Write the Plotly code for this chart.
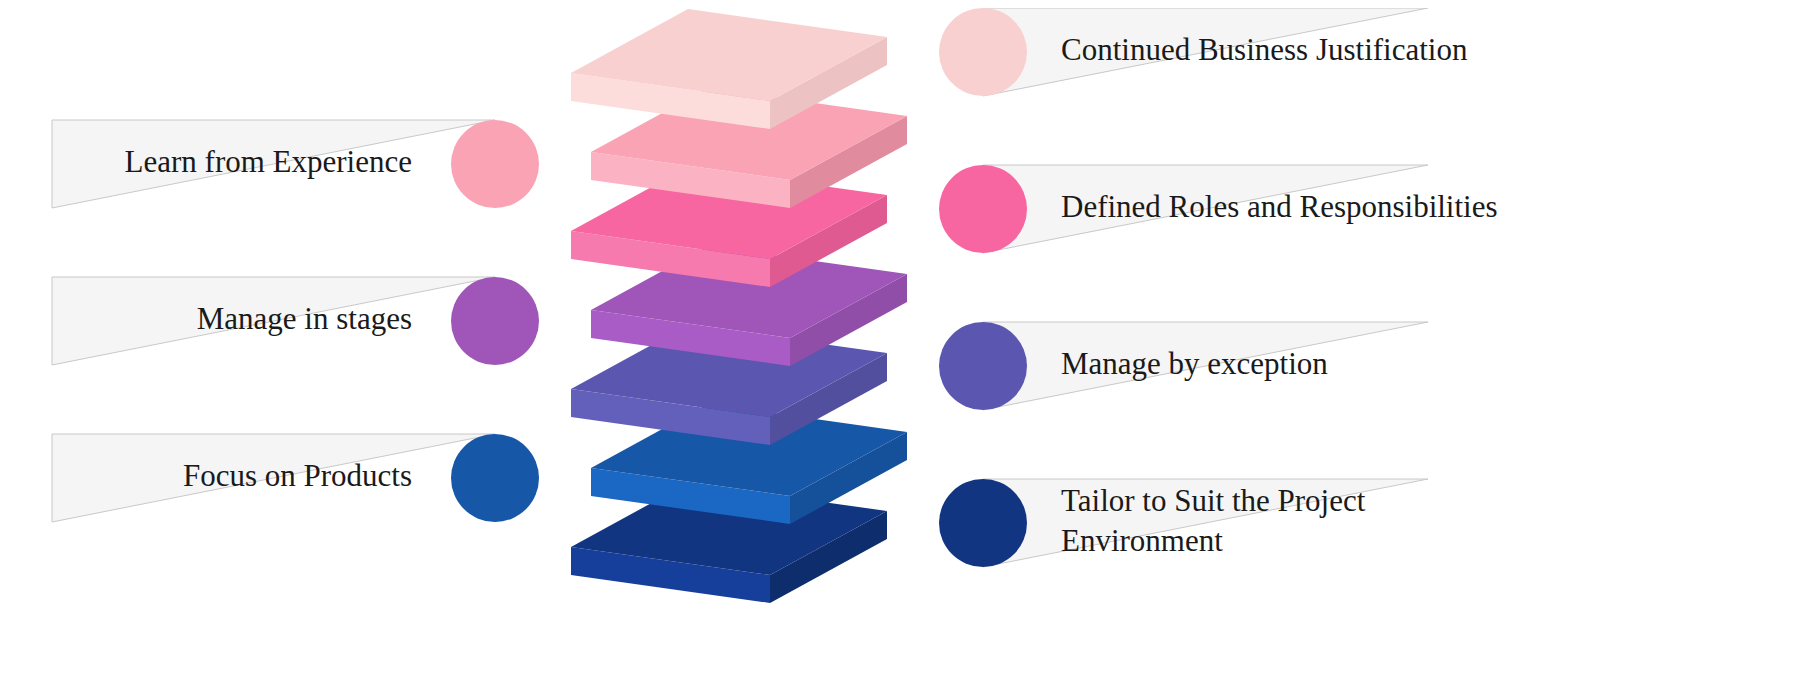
import plotly.graph_objects as go

# layers, top to bottom
layer_top = ["#F9D0D0", "#F9A3B5", "#F766A0", "#A056B9", "#5B57B0", "#1757A8", "#113580"]
layer_front = ["#FDDCDC", "#FBB3C4", "#F77AAE", "#A95CC6", "#6360BC", "#1A67C4", "#153F9A"]
layer_side = ["#EDC2C2", "#E08C9E", "#DE5A90", "#914EA8", "#52509E", "#15509A", "#0E2D6C"]

left_labels = ["Learn from Experience", "Manage in stages", "Focus on Products"]
left_colors = ["#F9A3B5", "#A056B9", "#1757A8"]
right_labels = ["Continued Business Justification", "Defined Roles and Responsibilities",
                "Manage by exception", "Tailor to Suit the Project<br>Environment"]
right_colors = ["#F9D0D0", "#F766A0", "#5B57B0", "#113580"]

W, H = 1816, 689
shapes = []

def poly(pts, color):
    d = "M " + " L ".join(f"{x},{y}" for x, y in pts) + " Z"
    return dict(type="path", path=d, fillcolor=color, line=dict(width=0), layer="below")

def pill(x0, x1, yc, r=44):
    d = (f"M {x0+r},{yc-r} L {x1-r},{yc-r} A {r} {r} 0 0 1 {x1-r},{yc+r} "
         f"L {x0+r},{yc+r} A {r} {r} 0 0 1 {x0+r},{yc-r} Z")
    return dict(type="path", path=d, fillcolor="#F5F5F5", line=dict(color="#C8C8C8", width=1), layer="below")

# pills first
left_y = [156 + 157 * i for i in range(len(left_labels))]
right_y = [44 + 157 * i for i in range(len(right_labels))]
for y in left_y:
    shapes.append(pill(0, 531, y))
for y in right_y:
    shapes.append(pill(931, 1464, y))

# slabs drawn bottom-up so upper ones overlap
step, th = 79, 28
for i in reversed(range(len(layer_top))):
    dx = 0 if i % 2 == 0 else 20
    dy = step * i
    L = (563 + dx, 65 + dy)
    B = (680 + dx, 1 + dy)
    R = (879 + dx, 29 + dy)
    F = (762 + dx, 93 + dy)
    shapes.append(poly([L, F, (F[0], F[1] + th), (L[0], L[1] + th)], layer_front[i]))
    shapes.append(poly([F, R, (R[0], R[1] + th), (F[0], F[1] + th)], layer_side[i]))
    shapes.append(poly([L, B, R, F], layer_top[i]))

fig = go.Figure()
fig.add_trace(go.Scatter(x=[487] * len(left_y), y=left_y, mode="markers",
                         marker=dict(size=88, color=left_colors, line=dict(width=0))))
fig.add_trace(go.Scatter(x=[975] * len(right_y), y=right_y, mode="markers",
                         marker=dict(size=88, color=right_colors, line=dict(width=0))))
fig.add_trace(go.Scatter(x=[404] * len(left_y), y=left_y, mode="text", text=left_labels,
                         textposition="middle left",
                         textfont=dict(family="Liberation Sans Narrow", size=31, color="#1a1a1a")))
fig.add_trace(go.Scatter(x=[1053] * len(right_y), y=right_y, mode="text", text=right_labels,
                         textposition="middle right",
                         textfont=dict(family="Liberation Sans Narrow", size=31, color="#1a1a1a")))

fig.update_layout(width=W, height=H, margin=dict(l=0, r=0, t=0, b=0),
                  plot_bgcolor="white", paper_bgcolor="white", showlegend=False,
                  shapes=shapes,
                  xaxis=dict(range=[0, W], visible=False, fixedrange=True),
                  yaxis=dict(range=[H, 0], visible=False, fixedrange=True))
fig.write_html("out.html")
